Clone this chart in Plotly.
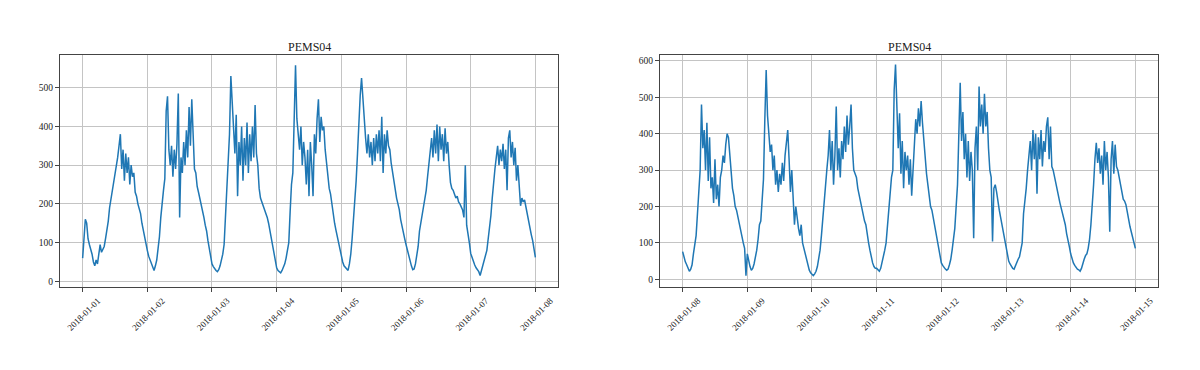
import pandas as pd
import plotly.graph_objects as go

# Half-hourly traffic flow values (PEMS04)
week1_start = "2018-01-01"
week1 = [
    # 2018-01-01
    60, 120, 160, 150, 110, 95, 85, 70, 50, 40, 55, 45, 70, 95, 75, 85,
    90, 110, 130, 155, 190, 210, 240, 255, 280, 300, 320, 350, 380, 290, 340, 260,
    330, 280, 320, 250, 300, 270, 280, 230, 220, 200, 190, 175, 150, 130, 115, 100,
    # 2018-01-02
    80, 65, 55, 45, 35, 28, 40, 55, 85, 115, 165, 210, 235, 265, 440, 478,
    340, 300, 350, 270, 340, 290, 355, 485, 165, 320, 280, 360, 300, 390, 320, 450,
    350, 470, 380, 290, 280, 245, 230, 215, 200, 185, 165, 145, 130, 105, 85, 65,
    # 2018-01-03
    45, 38, 32, 28, 25, 30, 40, 55, 70, 95, 160, 220, 280, 380, 530, 470,
    380, 330, 430, 220, 360, 300, 400, 260, 370, 300, 410, 280, 380, 310, 400, 320,
    455, 330, 300, 240, 215, 205, 200, 190, 180, 165, 150, 130, 110, 90, 70, 50,
    # 2018-01-04
    35, 28, 25, 22, 28, 35, 45, 60, 80, 100, 180, 250, 280, 420, 558, 420,
    380, 340, 400, 300, 360, 320, 250, 340, 220, 360, 300, 220, 380, 330, 420, 470,
    360, 425, 390, 400, 340, 300, 270, 240, 225, 200, 165, 150, 132, 115, 100, 85,
    # 2018-01-05
    60, 50, 40, 35, 30, 28, 45, 70, 110, 160, 200, 260, 330, 430, 480, 525,
    470, 400, 370, 330, 380, 320, 360, 300, 370, 310, 380, 330, 390, 310, 425, 280,
    380, 330, 390, 350, 340, 305, 280, 260, 240, 215, 200, 185, 160, 140, 125, 110,
    # 2018-01-06
    95, 80, 65, 50, 40, 30, 32, 45, 65, 90, 130, 150, 170, 190, 215, 235,
    270, 310, 340, 370, 320, 390, 330, 405, 310, 400, 340, 380, 310, 395, 330, 360,
    300, 255, 240, 235, 225, 215, 220, 205, 200, 190, 184, 165, 300, 145, 125, 100,
    # 2018-01-07
    72, 60, 50, 42, 35, 30, 25, 15, 28, 35, 50, 60, 80, 110, 135, 170,
    215, 260, 290, 320, 350, 300, 340, 310, 355, 290, 340, 235, 370, 390, 320, 360,
    300, 345, 260, 300, 250, 195, 215, 205, 210, 190, 170, 160, 140, 120, 105, 85,
    # 2018-01-08 00:00
    62,
]

week2_start = "2018-01-08"
week2 = [
    # 2018-01-08
    76, 60, 48, 40, 30, 22, 28, 40, 70, 95, 120, 180, 260, 300, 480, 360,
    410, 300, 430, 270, 390, 250, 280, 210, 330, 220, 260, 200, 280, 300, 340, 320,
    370, 400, 390, 340, 300, 250, 230, 200, 190, 170, 150, 130, 120, 100, 85, 10,
    # 2018-01-09
    70, 50, 35, 25, 30, 42, 60, 80, 110, 150, 160, 220, 275, 440, 575, 450,
    400, 350, 370, 300, 340, 260, 300, 240, 290, 260, 320, 270, 340, 380, 410, 330,
    240, 300, 200, 150, 200, 160, 140, 120, 150, 100, 85, 70, 50, 35, 25, 18,
    # 2018-01-10
    15, 10, 15, 22, 35, 55, 80, 120, 170, 210, 245, 300, 340, 410, 300, 380,
    260, 340, 475, 300, 360, 280, 380, 330, 420, 350, 450, 370, 420, 480, 360, 300,
    290, 280, 250, 230, 210, 190, 180, 160, 150, 120, 100, 80, 60, 45, 35, 30,
    # 2018-01-11
    30, 25, 22, 30, 45, 62, 80, 100, 150, 180, 230, 280, 300, 520, 590, 450,
    360, 456, 290, 380, 250, 350, 300, 340, 260, 330, 230, 300, 360, 440, 400, 470,
    420, 490, 430, 380, 340, 290, 260, 230, 200, 190, 170, 150, 130, 100, 80, 60,
    # 2018-01-12
    45, 38, 32, 28, 25, 28, 40, 55, 80, 110, 140, 200, 260, 400, 540, 380,
    460, 330, 400, 280, 380, 270, 350, 300, 113, 360, 420, 300, 530, 420, 480, 400,
    510, 420, 460, 360, 300, 280, 104, 250, 260, 240, 210, 190, 170, 150, 125, 105,
    # 2018-01-13
    80, 65, 50, 42, 35, 30, 28, 38, 45, 55, 62, 80, 100, 180, 210, 250,
    300, 340, 380, 300, 410, 330, 400, 235, 390, 330, 410, 310, 380, 350, 420, 445,
    330, 420, 310, 300, 280, 260, 240, 225, 210, 195, 180, 160, 150, 125, 110, 90,
    # 2018-01-14
    70, 55, 45, 38, 32, 28, 26, 22, 30, 45, 55, 65, 70, 85, 110, 150,
    200, 260, 330, 375, 320, 360, 290, 340, 260, 380, 300, 350, 280, 131, 330, 380,
    290, 370, 310, 300, 280, 260, 235, 220, 215, 205, 185, 160, 145, 130, 115, 100,
    # 2018-01-15 00:00
    85,
]

title_text = "PEMS04"
left_days = ["2018-01-0%d" % d for d in range(1, 9)]
right_days = ["2018-01-08", "2018-01-09", "2018-01-10", "2018-01-11",
              "2018-01-12", "2018-01-13", "2018-01-14", "2018-01-15"]
left_yticks = [0, 100, 200, 300, 400, 500]
right_yticks = [0, 100, 200, 300, 400, 500, 600]

t1 = pd.date_range(week1_start, periods=len(week1), freq="30min")
t2 = pd.date_range(week2_start, periods=len(week2), freq="30min")

FONT = "Liberation Serif, Times New Roman, serif"
LINE = "#1f77b4"

fig = go.Figure()
fig.add_trace(go.Scatter(x=t1, y=week1, mode="lines", xaxis="x", yaxis="y",
                         line=dict(color=LINE, width=1.5), showlegend=False))
fig.add_trace(go.Scatter(x=t2, y=week2, mode="lines", xaxis="x2", yaxis="y2",
                         line=dict(color=LINE, width=1.5), showlegend=False))

W, H = 1200, 370
OFF = 8  # page body margin offset
yd = [1 - (287 - OFF) / H, 1 - (55 - OFF) / H]


def px_x(v):
    return (v - OFF) / W


def xaxis(dom, days, rng, anchor):
    return dict(domain=dom, anchor=anchor, range=rng, type="date",
                tickmode="array", tickvals=days, ticktext=days,
                tickangle=-45, tickfont=dict(family=FONT, size=9, color="#222"),
                ticklabelshift=15,
                showgrid=True, gridcolor="#c4c4c4", gridwidth=0.9,
                showline=True, linecolor="#444", linewidth=1.2, mirror=True,
                ticks="outside", ticklen=4, tickcolor="#444", zeroline=False,
                automargin=False)


def yaxis(ticks, rng, anchor):
    return dict(domain=yd, anchor=anchor, range=rng,
                tickmode="array", tickvals=ticks,
                tickfont=dict(family=FONT, size=9.5, color="#222"),
                showgrid=True, gridcolor="#c4c4c4", gridwidth=0.9,
                showline=True, linecolor="#444", linewidth=1.2, mirror=True,
                ticks="outside", ticklen=4, tickcolor="#444", zeroline=False,
                automargin=False)


fig.update_layout(
    width=W, height=H, margin=dict(l=0, r=0, t=0, b=0, pad=0),
    paper_bgcolor="white", plot_bgcolor="white",
    xaxis=xaxis([px_x(60), px_x(558)], left_days,
                ["2017-12-31 15:36", "2018-01-08 08:24"], "y"),
    yaxis=yaxis(left_yticks, [-14.7, 584.5], "x"),
    xaxis2=xaxis([px_x(660), px_x(1158)], right_days,
                 ["2018-01-07 15:36", "2018-01-15 08:24"], "y2"),
    yaxis2=yaxis(right_yticks, [-21.2, 616.4], "x2"),
    annotations=[
        dict(text=title_text, xref="paper", yref="paper",
             x=px_x((60 + 558) / 2), y=1 - (47 - OFF) / H, showarrow=False,
             xanchor="center", yanchor="middle",
             font=dict(family=FONT, size=12, color="#222")),
        dict(text=title_text, xref="paper", yref="paper",
             x=px_x((660 + 1158) / 2), y=1 - (47 - OFF) / H, showarrow=False,
             xanchor="center", yanchor="middle",
             font=dict(family=FONT, size=12, color="#222")),
    ],
)

fig.write_html("out.html")
